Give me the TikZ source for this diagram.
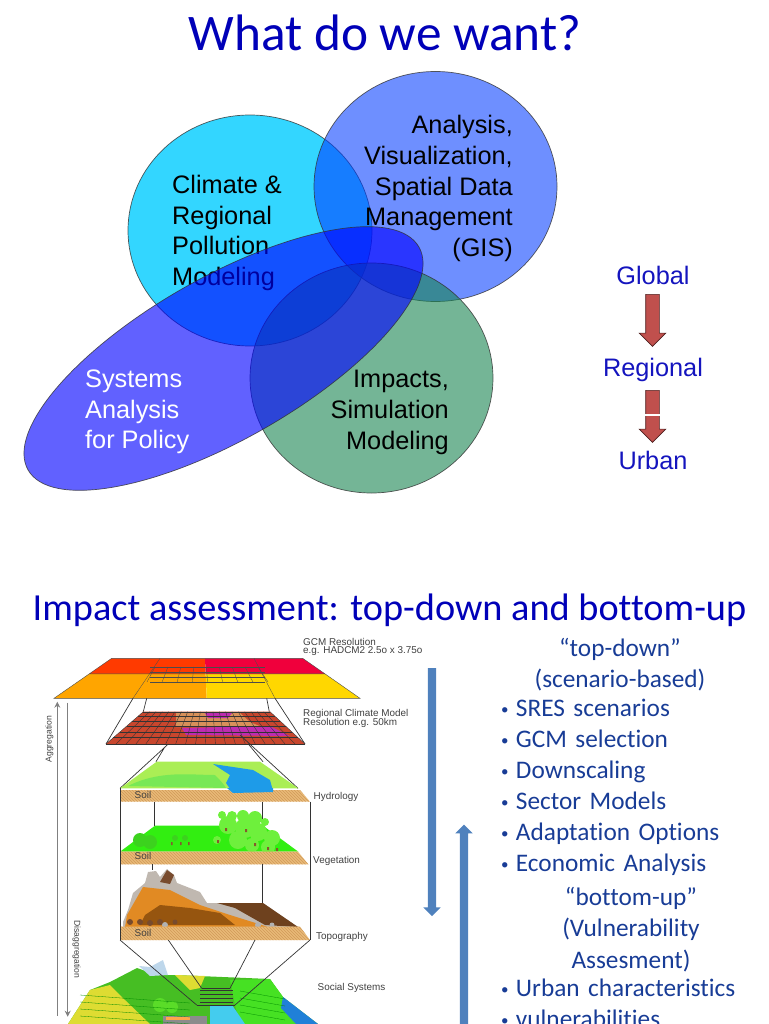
\documentclass[tikz,border=0pt]{standalone}
\usepackage{fontspec}
\setmainfont{Liberation Sans}
\newfontfamily\calibri[Ligatures=NoCommon]{Carlito}
\usepackage{tikz}
\usetikzlibrary{arrows.meta}
\usetikzlibrary{calc,positioning,shapes,patterns}

\definecolor{titleblue}{RGB}{0,0,184}
\definecolor{labelblue}{RGB}{20,20,190}
\definecolor{listblue}{RGB}{24,60,150}
\definecolor{arrowred}{RGB}{192,80,77}
\definecolor{arrowblue}{RGB}{79,129,189}
\definecolor{soiltan}{RGB}{232,186,120}

\newcommand{\listdot}{\raisebox{1.5pt}{\fontsize{15}{15}\selectfont •}\hspace{7.5pt}}

\tikzset{
    venn/.style={ellipse, draw=black!80, draw opacity=.8, line width=.7pt, inner sep=0pt, outer sep=0pt},
    venntext/.style={inner sep=0pt, font=\fontsize{25.3}{30.7}\selectfont},
    scalelabel/.style={inner sep=0pt, text=labelblue, font=\fontsize{25.3}{30}\selectfont},
    redarrow/.style={single arrow, draw=black!60!arrowred, fill=arrowred, line width=.6pt, inner xsep=0pt, inner ysep=6.5pt,
        single arrow head extend=6.5pt, minimum height=52pt, rotate=-90},
    bluearrow/.style={single arrow, fill=arrowblue, inner xsep=0pt, inner ysep=4pt, single arrow head extend=4.5pt},
    listhead/.style={inner sep=0pt, text=listblue, font=\calibri\fontsize{25.3}{28}\selectfont},
    listitem/.style={inner sep=0pt, text width=250pt, text height=15pt, text depth=4pt, text=listblue, font=\calibri\fontsize{25.3}{28}\selectfont},
    artlabel/.style={inner sep=0pt, anchor=west, text=black!75, font=\fontsize{9.9}{10}\selectfont},
    axislabel/.style={inner sep=0pt, text=black!75, font=\fontsize{8.6}{9}\selectfont},
    plateline/.style={line width=.7pt, black!80},
    soilband/.style={fill=soiltan, postaction={pattern=north west lines, pattern color=brown!55!soiltan}},
}

\begin{document}
\begin{tikzpicture}[x=1pt, y=-1pt, node distance=31pt]
    \useasboundingbox (0,0) rectangle (768,1024);
    \clip (0,0) rectangle (768,1024);

    % upper slide
    \node[inner sep=0pt, text=titleblue, font=\calibri\fontsize{51.3}{54}\selectfont] (whattitle) at (385,33) {What do we want?};

    \node[venn, fill={rgb,255:red,0;green,204;blue,255}, fill opacity=.8, minimum width=244pt, minimum height=231pt] (climate) at (250,230.5) {};
    \node[venntext, anchor=west, align=left] (climatetext) at (172,233) {Climate \&\\Regional\\Pollution\\Modeling};
    \node[venn, fill={rgb,255:red,0;green,58;blue,255}, fill opacity=.57, minimum width=243pt, minimum height=230pt] (gis) at (435.5,186.5) {};
    \node[venn, fill={rgb,255:red,23;green,132;blue,80}, fill opacity=.6, minimum width=243pt, minimum height=230pt] (impacts) at (371.5,378) {};
    \node[venn, fill=blue, fill opacity=.62, minimum width=450pt, minimum height=162pt, rotate=29.7] (systems) at (223.5,358.5) {};
    \node[venntext, anchor=east, align=right] (gistext) at (513,188.5) {Analysis,\\Visualization,\\Spatial Data\\Management\\(GIS)};
    \node[venntext, anchor=east, align=right] (impactstext) at (449,412.5) {Impacts,\\Simulation\\Modeling};
    \node[venntext, anchor=west, align=left, text=white] (systemstext) at (85,412) {Systems\\Analysis\\for Policy};

    \node[scalelabel] (global) at (653,275) {Global};
    \node[redarrow] (globaldown) at ($(global)+(-.5,42)$) {};
    \node[scalelabel] (regional) at (653,370) {Regional};
    \node[redarrow] (regionaldown) at ($(regional)+(-.5,43)$) {};
    \node[scalelabel] (urban) at (653,460) {Urban};
    \draw[white, line width=2pt] ($(regionaldown.center)+(-8,2)$) -- +(16,0);

    % lower slide
    \node[inner sep=0pt, text=titleblue, font=\calibri\fontsize{38.3}{42}\selectfont] (impacttitle) at (389.5,610) {Impact assessment: top-down and bottom-up};

    \node[bluearrow, rotate=-90, minimum height=248pt] (downarrow) at (432,790) {};
    \node[bluearrow, rotate=90, minimum height=240pt] (uparrow) at (464,946.7) {};

    \node[listhead] (topdown) at (620,649.5) {“top-down”};
    \node[listhead] (scenario) [below of=topdown, node distance=30pt] {(scenario-based)};
    \node[listitem] (sres) at (626,710.5) {\listdot SRES scenarios};
    \node[listitem] (gcm) [below of=sres] {\listdot GCM selection};
    \node[listitem] (downscaling) [below of=gcm] {\listdot Downscaling};
    \node[listitem] (sector) [below of=downscaling] {\listdot Sector Models};
    \node[listitem] (adaptation) [below of=sector] {\listdot Adaptation Options};
    \node[listitem] (economic) [below of=adaptation] {\listdot Economic Analysis};
    \node[listhead] (bottomup) at (631,898.5) {“bottom-up”};
    \node[listhead] (vulnerability) [below of=bottomup] {(Vulnerability};
    \node[listhead] (assesment) [below of=vulnerability] {Assesment)};
    \node[listitem] (urbanchar) at (626,990.5) {\listdot Urban characteristics};
    \node[listitem] (vulner) [below of=urbanchar] {\listdot vulnerabilities};

    % GCM plate
    \coordinate (gcmtl) at (111.7,658.3);
    \coordinate (gcmtr) at (302.7,658.3);
    \coordinate (gcmbr) at (360,698.3);
    \coordinate (gcmbl) at (54,698.3);
    \coordinate (gcmtm) at (205,658.3);
    \coordinate (gcmbm) at (206.7,698.3);
    \coordinate (gcmml) at ($(gcmtl)!.39!(gcmbl)$);
    \coordinate (gcmmr) at ($(gcmtr)!.39!(gcmbr)$);
    \coordinate (gcmmm) at ($(gcmtm)!.39!(gcmbm)$);
    \fill[fill={rgb,255:red,255;green,58;blue,0}] (gcmtl) -- (gcmtm) -- (gcmmm) -- (gcmml) -- cycle;
    \fill[fill={rgb,255:red,240;green,0;blue,60}] (gcmtm) -- (gcmtr) -- (gcmmr) -- (gcmmm) -- cycle;
    \fill[fill={rgb,255:red,255;green,165;blue,0}] (gcmml) -- (gcmmm) -- (gcmbm) -- (gcmbl) -- cycle;
    \fill[fill={rgb,255:red,255;green,215;blue,0}] (gcmmm) -- (gcmmr) -- (gcmbr) -- (gcmbm) -- cycle;
    \draw[line width=.4pt, black!70] (gcmtl) -- (gcmtr) -- (gcmbr) -- (gcmbl) -- cycle (gcmml) -- (gcmmr);
    \draw[line width=.3pt, black!70] (160,658.3) -- (133,698.3) (254,658.3) -- (275,698.3);
    \foreach \gridrow in {667,672,677,682}
        \draw[line width=.3pt, black!70] (150,\gridrow) -- (265,\gridrow);
    \foreach \gridcol in {0,.125,...,1}
        \draw[line width=.3pt, black!70] ($(155,667)!\gridcol!(258,667)$) -- ($(147,682)!\gridcol!(268,682)$);

    % RCM plate
    \draw[plateline] (133,698.3) -- (106,744) (146.7,698.3) -- (143.3,711.7) (266.7,698.3) -- (269.3,711.7) (275,698.3) -- (305,744);
    \coordinate (rcmtl) at (143.3,711.7);
    \coordinate (rcmtr) at (270,711.7);
    \coordinate (rcmbr) at (305,744);
    \coordinate (rcmbl) at (106,744);
    \fill[fill={rgb,255:red,200;green,70;blue,45}] (rcmtl) -- (rcmtr) -- (rcmbr) -- (rcmbl) -- cycle;
    \fill[fill={rgb,255:red,216;green,144;blue,90}] (176,713) -- (240,713) -- (250,722) -- (262,727) -- (176,727) -- cycle;
    \fill[fill={rgb,255:red,190;green,44;blue,176}] (182,728) -- (270,726) -- (290,736) -- (186,735) -- cycle;
    \fill[fill={rgb,255:red,190;green,44;blue,176}] (205,713) -- (232,713) -- (228,718) -- (208,718) -- cycle;
    \foreach \gridcol in {0,.05,...,1.01}
        \draw[line width=.35pt, black!80] ($(rcmtl)!\gridcol!(rcmtr)$) -- ($(rcmbl)!\gridcol!(rcmbr)$);
    \foreach \gridrow in {0,.14,.29,.45,.62,.8,1}
        \draw[line width=.35pt, black!80] ($(rcmtl)!\gridrow!(rcmbl)$) -- ($(rcmtr)!\gridrow!(rcmbr)$);
    \draw[plateline] (168.3,744) -- (120,788.3) (165,746.7) -- (156,761.7) (240,735) -- (298,788.3) (248.3,744) -- (263,761.7);

    % hydrology layer
    \fill[fill={rgb,255:red,170;green,238;blue,85}] (156.7,761.7) -- (260,761.7) -- (298.3,788.3) -- (120,788.3) -- cycle;
    \fill[fill={rgb,255:red,120;green,232;blue,85}] (128,786) .. controls (160,770) and (190,775) .. (215,775) .. controls (222,782) and (225,786) .. (226,788) -- cycle;
    \fill[fill={rgb,255:red,30;green,155;blue,232}] (213,764) -- (233,767) -- (253,770) -- (270,780) -- (273,791) -- (233,793) -- (226,783) -- (230,775) -- cycle;
    \fill[soilband] (120,790) -- (300,790) -- (310,801.7) -- (120,801.7) -- cycle;
    \fill[fill={rgb,255:red,30;green,155;blue,232}] (227,788) -- (273,788) -- (273,792) -- (233,793) -- cycle;

    % vegetation layer
    \draw[plateline, line width=.9pt] (154,801.7) -- (154,825.7) (262.3,801.7) -- (262.3,825.7);
    \fill[fill={rgb,255:red,50;green,238;blue,17}] (155,825.7) -- (263,825.7) -- (298.3,851.7) -- (120,851.7) -- cycle;
    \fill[fill={rgb,255:red,110;green,240;blue,60}] (222,815) circle[radius=4] (232,816) circle[radius=5] (243,816) circle[radius=6] (255,818) circle[radius=7] (265,822) circle[radius=4] (228,825) circle[radius=9] (245,828) circle[radius=10] (258,832) circle[radius=9] (272,838) circle[radius=8] (238,840) circle[radius=9] (252,845) circle[radius=7] (268,847) circle[radius=7] (217,840) circle[radius=4];
    \fill[fill={rgb,255:red,60;green,210;blue,30}] (140,840) circle[radius=7] (150,842) circle[radius=7] (175,838) circle[radius=3] (185,838) circle[radius=3];
    \fill[brown!70!black] (225,828) rectangle +(2,3) (245,829) rectangle +(2,3) (217,840) rectangle +(2,3) (254,843) rectangle +(2,3) (267,847) rectangle +(2,3) (276,848) rectangle +(2,3) (171,842) rectangle +(1.5,3) (180,842) rectangle +(1.5,3) (188,842) rectangle +(1.5,3);
    \fill[soilband] (120,851.7) -- (298,851.7) -- (308.3,864.3) -- (120,864.3) -- cycle;

    % topography layer
    \draw[plateline, line width=1.2pt] (152.3,864.3) -- (152.3,870);
    \draw[plateline, line width=.7pt] (262.3,864.3) -- (262.3,903);
    \fill[fill={rgb,255:red,192;green,184;blue,176}] (123,922) -- (128,910) -- (133,893) -- (145,883) -- (148,872) -- (156,871) -- (160,877) -- (167,869) -- (174,875) -- (177,883) -- (200,892) -- (207,903) -- (263,903) -- (298,927) -- (123,927) -- cycle;
    \fill[fill={rgb,255:red,225;green,138;blue,35}] (127,915) -- (143,887) -- (170,890) -- (200,905) -- (230,915) -- (262,925) -- (268,927) -- (125,927) -- cycle;
    \fill[fill={rgb,255:red,150;green,85;blue,15}] (145,915) -- (160,905) -- (190,908) -- (220,913) -- (235,925) -- (140,925) -- cycle;
    \fill[fill={rgb,255:red,110;green,65;blue,30}] (217,903) -- (263,903) -- (298,927) -- (265,925) -- (235,908) -- cycle;
    \fill[fill={rgb,255:red,120;green,75;blue,45}] (160,882) -- (167,870) -- (174,875) -- (170,884) -- cycle;
    \fill[fill={rgb,255:red,120;green,75;blue,45}] (130,922) circle[radius=3] (140,922) circle[radius=3] (150,923) circle[radius=3] (160,922) circle[radius=3] (175,922) circle[radius=2.5];
    \fill[black!30] (165,925) circle[radius=3] (258,925) circle[radius=3] (272,925) circle[radius=2.5];
    \fill[soilband] (120,926.7) -- (300,926.7) -- (310,940) -- (120,940) -- cycle;
    \draw[plateline, line width=.9pt] (120,788.3) -- (120,940) (310,801.7) -- (310,940);

    % social systems terrain
    \fill[fill={rgb,255:red,70;green,190;blue,35}] (68,1024) -- (90,990) -- (110,982) -- (137,968) -- (157,975) -- (175,975) -- (270,979) -- (283,997) -- (318,1024) -- cycle;
    \fill[fill={rgb,255:red,222;green,220;blue,50}] (68,1024) -- (90,990) -- (110,985) -- (125,1000) -- (150,1024) -- cycle;
    \fill[fill={rgb,255:red,222;green,220;blue,50}] (175,975) -- (205,976) -- (200,988) -- (190,990) -- cycle;
    \fill[fill={rgb,255:red,70;green,225;blue,35}] (230,980) -- (270,979) -- (283,997) -- (296,1024) -- (240,1024) -- (235,1005) -- cycle;
    \fill[fill={rgb,255:red,32;green,128;blue,216}] (283,997) -- (318,1024) -- (296,1024) -- (281,1008) -- cycle;
    \fill[fill={rgb,255:red,68;green,204;blue,238}] (210,1005) -- (232,1005) -- (245,1024) -- (210,1024) -- cycle;
    \fill[fill={rgb,255:red,190;green,215;blue,235}] (139,966) -- (150,967) -- (163,960) -- (168,975) -- (150,976) -- cycle;
    \fill[fill={rgb,255:red,90;green,220;blue,40}] (160,1005) circle[radius=7] (172,1007) circle[radius=6];
    \fill[black!45] (163,1016) rectangle (207,1024);
    \fill[orange!70] (166,1017) rectangle (190,1020);
    \foreach \gridrow in {995,1002,1009,1016}
        \draw[line width=.3pt, black!45!green] (80,\gridrow) -- (190,\gridrow + 8) (240,\gridrow - 4) -- (285,\gridrow + 4);
    \foreach \gridrow in {990,994,998,1002}
        \draw[line width=.5pt, black!80] (200,\gridrow) -- (233,\gridrow);
    \draw[plateline] (120,940) -- (196.7,1005) (168.3,940) -- (201.7,988.3) (255,940) -- (230,988.3) (310,940) -- (235,1005);
    \draw[plateline] (201.7,988.3) -- (230,988.3) (196.7,1005) -- (235,1005);

    % side scale
    \coordinate (aggbottom) at (57.3,1015.7);
    \coordinate (aggtop) at (57.3,701.7);
    \coordinate (disaggtop) at (67.7,702.7);
    \coordinate (disaggbottom) at (67.7,1016.7);
    \draw[-{Stealth[length=6pt, width=6pt]}, black!50, line width=1.1pt] (aggbottom) -- (aggtop);
    \draw[-{Stealth[length=6pt, width=6pt]}, black!50, line width=1.1pt] (disaggtop) -- (disaggbottom);
    \node[axislabel, rotate=90] (aggregation) at (49.3,739.3) {Aggregation};
    \node[axislabel, rotate=-90] (disaggregation) at (76.7,949.3) {Disaggregation};

    \node[artlabel] (gcmres) at (303,641.7) {GCM Resolution};
    \node[artlabel] (gcmres2) at (303,650.7) {e.g. HADCM2 2.5o x 3.75o};
    \node[artlabel] (rcmres) at (303,714) {Regional Climate Model};
    \node[artlabel] (rcmres2) at (303,723) {Resolution e.g. 50km};
    \node[artlabel] (hydrology) at (313.5,797) {Hydrology};
    \node[artlabel] (vegetation) at (313,861) {Vegetation};
    \node[artlabel] (topography) at (316,937) {Topography};
    \node[artlabel] (social) at (317.5,988) {Social Systems};
    \node[artlabel, anchor=center] (soilone) at (143,795) {Soil};
    \node[artlabel, anchor=center] (soiltwo) at (143,855.7) {Soil};
    \node[artlabel, anchor=center] (soilthree) at (143,932.7) {Soil};
\end{tikzpicture}
\end{document}
